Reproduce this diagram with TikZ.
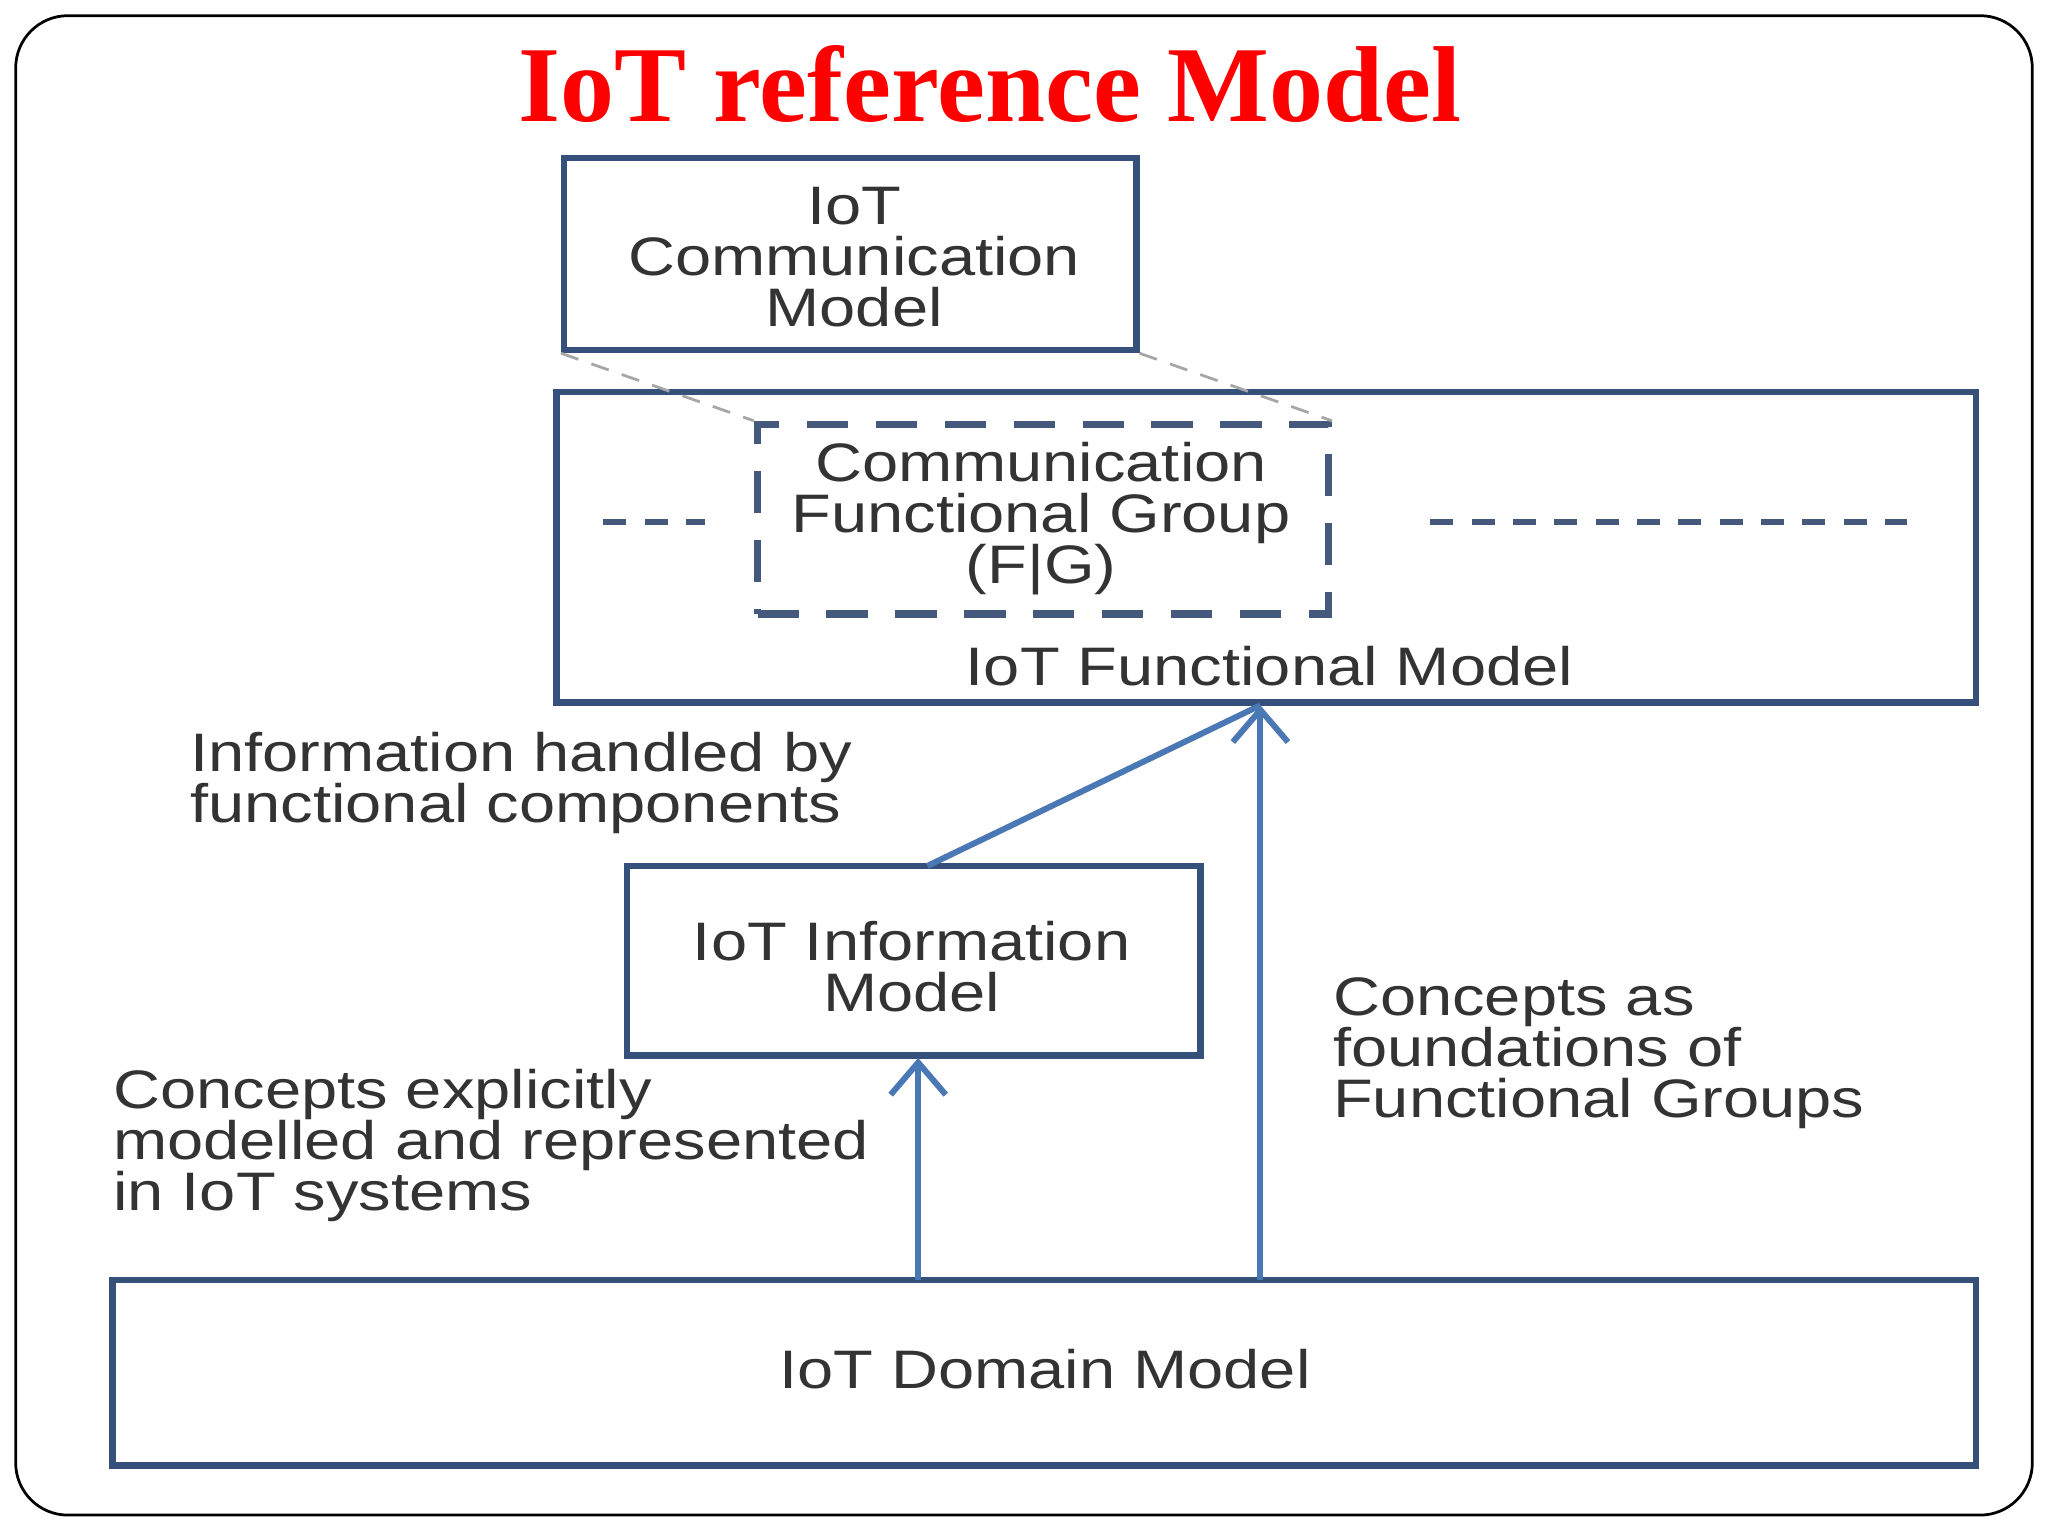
\documentclass[tikz,border=0pt]{standalone}
\usepackage{fontspec}
\setmainfont{Liberation Sans}[FakeStretch=1.2]
\newfontfamily\titlefont{Liberation Serif}
\usetikzlibrary{arrows.meta,fit}
\begin{document}
\begin{tikzpicture}[x=0.01cm,y=-0.01cm,
  box/.style={draw=boxc,line width=1.4pt,inner sep=0},
  txt/.style={font=\fontsize{11.8}{11.1}\selectfont,text=black!80,align=center,inner sep=0},
  ltxt/.style={txt,align=left,anchor=north west},
  arr/.style={draw=arrc,line width=1.3pt,-{Straight Barb[length=7pt,width=12pt,line width=1.3pt]}}]
\definecolor{boxc}{HTML}{35507A}
\definecolor{arrc}{HTML}{4A78B5}
\useasboundingbox (0,0) rectangle (1568,1176);
\draw[rounded corners=0.4cm,line width=0.6pt] (12,12) rectangle (1556,1160);
\node[font=\titlefont\bfseries\fontsize{23.5}{23.5}\selectfont,text=red] (title) at (758,64) {IoT reference Model};
\node[box,fit={(432,121) (870,268)}] (comm) {};
\node[txt] (commt) at (654,197) {IoT\\Communication\\Model};
\node[box,fit={(426,300) (1513,538)}] (func) {};
\node[draw=boxc!80!gray,line width=1.6pt,dash pattern=on 9pt off 6pt,inner sep=0,fit={(580,325) (1017,470)}] (fg) {};
\node[txt] (fgt) at (797,397) {Communication\\Functional Group\\(F|G)};
\node[txt] (funct) at (972,510) {IoT Functional Model};
\draw[draw=boxc!80!gray,line width=1.3pt,dash pattern=on 5pt off 4pt] (462,400) coordinate (d1) -- (540,400) coordinate (d2);
\draw[draw=boxc!80!gray,line width=1.3pt,dash pattern=on 5pt off 4pt] (1095,400) coordinate (d3) -- (1460,400) coordinate (d4);
\draw[gray!70,line width=0.6pt,dash pattern=on 4pt off 3pt] (comm.south west) -- (fg.north west);
\draw[gray!70,line width=0.6pt,dash pattern=on 4pt off 3pt] (comm.south east) -- (fg.north east);
\node[box,fit={(480,663) (919,808)}] (info) {};
\node[txt] (infot) at (698,740) {IoT Information\\Model};
\node[box,fit={(86,980) (1513,1122)}] (dom) {};
\node[txt] (domt) at (800,1048) {IoT Domain Model};
\coordinate (a1) at (703,980);
\coordinate (a2) at (703,810);
\coordinate (b1) at (965,980);
\coordinate (b2) at (965,540);
\coordinate (c1) at (710,663);
\draw[arr] (a1) -- (a2);
\draw[arr] (b1) -- (b2);
\draw[draw=arrc,line width=1.3pt] (c1) -- (b2);
\node[ltxt] (l1) at (145,560) {Information handled by\\functional components};
\node[ltxt] (l2) at (86,818) {Concepts explicitly\\modelled and represented\\in IoT systems};
\node[ltxt] (l3) at (1020,748) {Concepts as\\foundations of\\Functional Groups};
\end{tikzpicture}
\end{document}
